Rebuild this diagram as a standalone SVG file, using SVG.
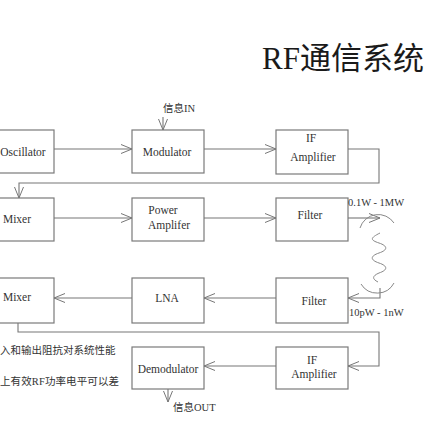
<svg xmlns="http://www.w3.org/2000/svg" width="431" height="431" viewBox="0 0 431 431">
<style>
.box{fill:#fff;stroke:#7a7a7a;stroke-width:1.2}
.lbl{font-family:"Liberation Serif","Noto Sans CJK SC",serif;font-size:11.5px;fill:#333;text-anchor:middle}
.note{font-family:"Liberation Serif","Noto Sans CJK SC",serif;font-size:10.5px;fill:#333}
.wire{fill:none;stroke:#777;stroke-width:1.1}
.arr{marker-end:url(#ah)}
</style>
<defs>
<marker id="ah" markerUnits="userSpaceOnUse" markerWidth="12" markerHeight="10" refX="11" refY="5" orient="auto">
<path d="M0,0.5 L11,5 L0,9.5" fill="none" stroke="#777" stroke-width="1"/>
</marker>
</defs>
<rect width="431" height="431" fill="#fff"/>
<text x="262" y="69" font-family="Liberation Serif,Noto Sans CJK SC,serif" font-size="31" fill="#1a1a1a">RF通信系统</text>
<g id="osc"><rect class="box" x="-14" y="130" width="68" height="43"/><text class="lbl" x="23" y="156">Oscillator</text></g>
<g id="mod"><rect class="box" x="132" y="130" width="72" height="43"/><text class="lbl" x="167" y="156">Modulator</text></g>
<g id="ifamp1"><rect class="box" x="276" y="130" width="72" height="44"/><text class="lbl" x="311" y="142">IF</text><text class="lbl" x="313" y="161">Amplifier</text></g>
<g id="mixer1"><rect class="box" x="-14" y="198" width="68" height="43"/><text class="lbl" x="17" y="223">Mixer</text></g>
<g id="pa"><rect class="box" x="132" y="198" width="72" height="43"/><text class="lbl" x="163" y="214">Power</text><text class="lbl" x="169" y="229">Amplifer</text></g>
<g id="filter1"><rect class="box" x="276" y="198" width="72" height="43"/><text class="lbl" x="310" y="219">Filter</text></g>
<g id="mixer2"><rect class="box" x="-14" y="278" width="68" height="45"/><text class="lbl" x="17" y="301">Mixer</text></g>
<g id="lna"><rect class="box" x="132" y="278" width="72" height="45"/><text class="lbl" x="167" y="302">LNA</text></g>
<g id="filter2"><rect class="box" x="276" y="278" width="72" height="45"/><text class="lbl" x="314" y="305">Filter</text></g>
<g id="demod"><rect class="box" x="132" y="347" width="72" height="42"/><text class="lbl" x="168" y="373">Demodulator</text></g>
<g id="ifamp2"><rect class="box" x="276" y="347" width="72" height="42"/><text class="lbl" x="312" y="364">IF</text><text class="lbl" x="314" y="378">Amplifier</text></g>
<g id="labels">
<text class="note" x="163" y="112">信息IN</text>
<text class="note" x="173" y="411">信息OUT</text>
<text class="note" x="348" y="206">0.1W - 1MW</text>
<text class="note" x="349" y="316">10pW - 1nW</text>
<text class="note" x="0" y="354">入和输出阻抗对系统性能</text>
<text class="note" x="0" y="385" textLength="119">上有效RF功率电平可以差</text>
</g>
<g id="connectors">
<path class="wire arr" d="M163,117 V130"/>
<path class="wire arr" d="M54,149 H132"/>
<path class="wire arr" d="M204,149 H276"/>
<path class="wire arr" d="M348,149 H379 V183 H19 V198"/>
<path class="wire arr" d="M54,218 H132"/>
<path class="wire arr" d="M204,218 H276"/>
<path class="wire arr" d="M348,218 H380"/>
<path class="wire arr" d="M380,288 V298 H348"/>
<path class="wire arr" d="M276,298 H204"/>
<path class="wire arr" d="M132,298 H54"/>
<path class="wire arr" d="M18,323 V332 H379 V366 H348"/>
<path class="wire arr" d="M276,366 H204"/>
<path class="wire arr" d="M168,389 V402"/>
</g>
<g id="antenna" fill="none" stroke="#888" stroke-width="1">
<path d="M360,228 A19,19 0 0 1 394,223"/>
<path d="M380,233 C370,238 370,240 379,243 C388,246 388,250 379,253 C370,256 370,260 379,263 C388,266 388,270 379,273 C372,276 372,279 378,282"/>
<path d="M361,284 A19,19 0 0 0 394,283"/>
</g>
</svg>
